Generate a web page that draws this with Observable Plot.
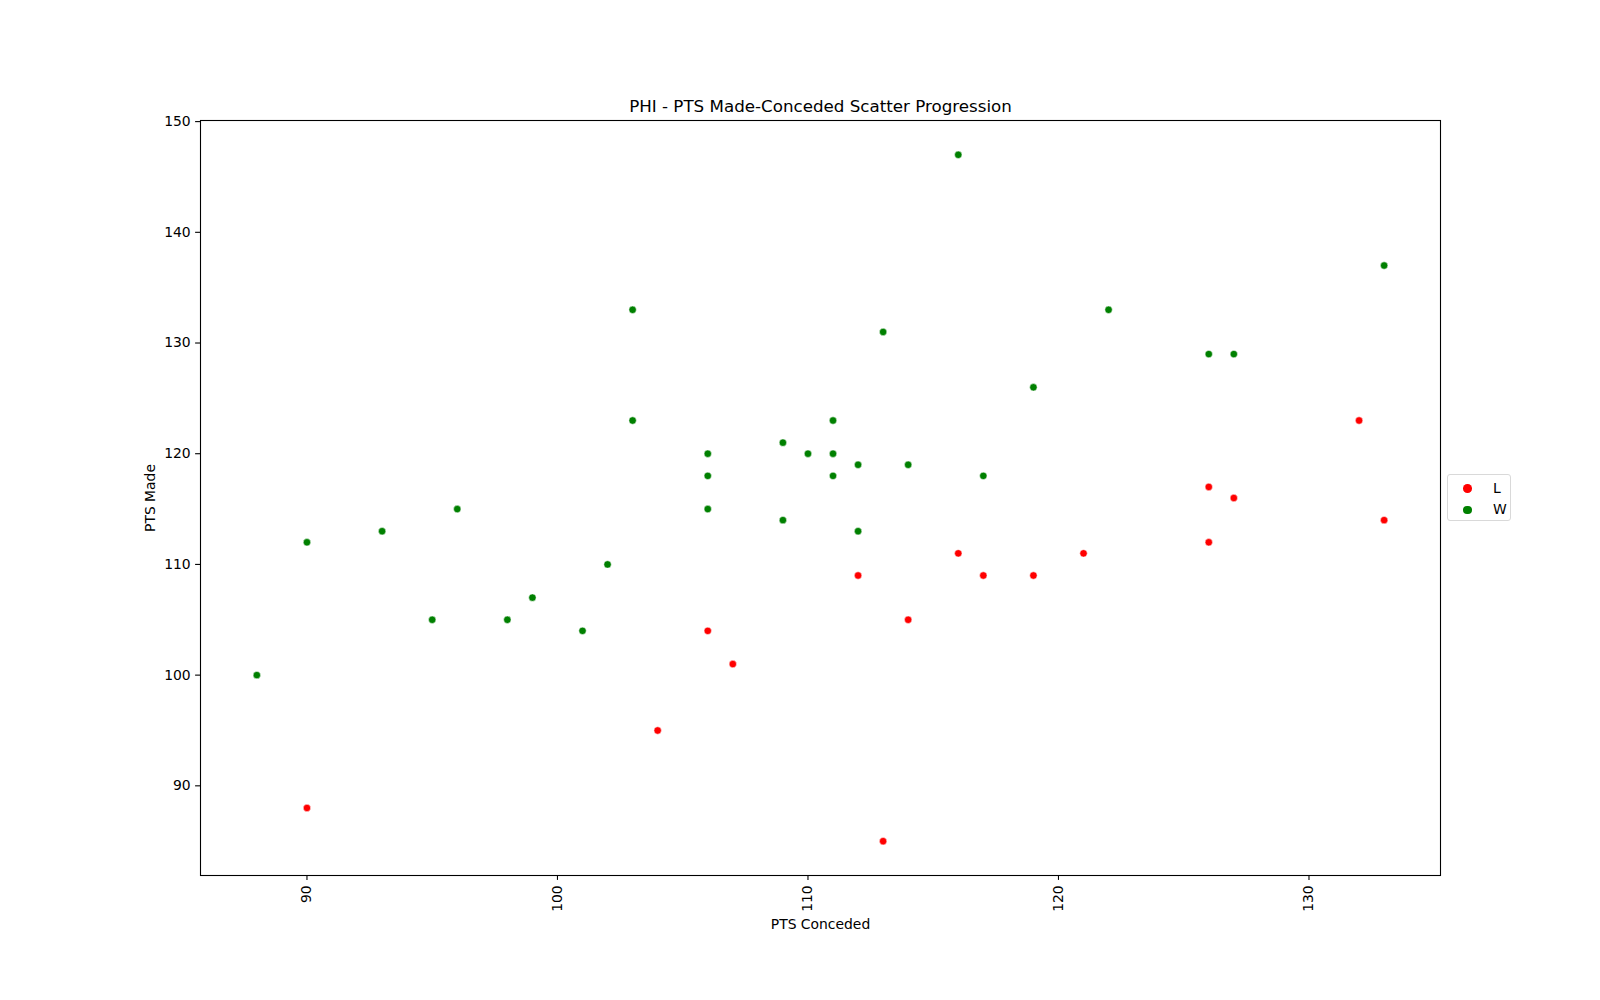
<!DOCTYPE html>
<html>
<head>
<meta charset="utf-8">
<script src="https://cdn.jsdelivr.net/npm/d3@7"></script>
<script src="https://cdn.jsdelivr.net/npm/@observablehq/plot@0.6"></script>
<style>
  html, body { margin: 0; padding: 0; background: #fff; }
  #wrap { position: relative; width: 1600px; height: 1000px; font-family: "DejaVu Sans", sans-serif; }
  #legend {
    position: absolute; left: 1447px; top: 474px; width: 64px; height: 47px;
    border: 1px solid #d9d9d9; border-radius: 3px; box-sizing: border-box;
    font-size: 13.9px; color: #000; background: rgba(255,255,255,0.8);
  }
  .sw { position: absolute; width: 8.6px; height: 8.6px; border-radius: 50%; }
  .lab { position: absolute; line-height: 1; }
</style>
</head>
<body>
<div id="wrap"></div>
<script>
// Data (PTS Conceded, PTS Made, result)
const winConceded = [88, 90, 93, 95, 96, 98, 99, 101, 102, 103, 103, 106, 106, 106, 109, 109, 110, 111, 111, 111, 112, 112, 113, 114, 116, 117, 119, 122, 126, 127, 133];
const winMade     = [100, 112, 113, 105, 115, 105, 107, 104, 110, 133, 123, 120, 118, 115, 121, 114, 120, 123, 120, 118, 119, 113, 131, 119, 147, 118, 126, 133, 129, 129, 137];
const lossConceded = [90, 104, 106, 107, 112, 113, 114, 116, 117, 119, 121, 126, 126, 127, 132, 133];
const lossMade     = [88, 95, 104, 101, 109, 85, 105, 111, 109, 109, 111, 117, 112, 116, 123, 114];
const resultLabels = ["L", "W"];
const resultColors = ["red", "green"];
const xTicks = [90, 100, 110, 120, 130];
const yTicks = [90, 100, 110, 120, 130, 140, 150];
const titleText = "PHI - PTS Made-Conceded Scatter Progression";
const xLabel = "PTS Conceded";
const yLabel = "PTS Made";

const games = [
  ...lossConceded.map((c, i) => ({conceded: c, made: lossMade[i], result: "L"})),
  ...winConceded.map((c, i) => ({conceded: c, made: winMade[i], result: "W"}))
];

const xMin = d3.min(games, d => d.conceded), xMax = d3.max(games, d => d.conceded);
const yMin = d3.min(games, d => d.made), yMax = d3.max(games, d => d.made);
const xPad = (xMax - xMin) * 0.05, yPad = (yMax - yMin) * 0.05;

const chart = Plot.plot({
  width: 1600,
  height: 1000,
  marginLeft: 200,
  marginRight: 160,
  marginTop: 120,
  marginBottom: 125,
  style: { fontFamily: "DejaVu Sans, sans-serif", fontSize: "13.9px", color: "#000", background: "#fff" },
  x: { domain: [xMin - xPad, xMax + xPad] },
  y: { domain: [yMin - yPad, yMax + yPad] },
  color: { domain: resultLabels, range: resultColors },
  marks: [
    Plot.axisX({ ticks: xTicks, tickSize: 4.9, tickPadding: 4.9, tickRotate: -90, label: null, strokeWidth: 1.1, fontSize: 13.9 }),
    Plot.axisY({ ticks: yTicks, tickSize: 4.9, tickPadding: 4.9, label: null, strokeWidth: 1.1, fontSize: 13.9 }),
    Plot.dot(games, { x: "conceded", y: "made", fill: "result", r: 3.7, stroke: "white", strokeWidth: 0.5 }),
    Plot.frame({ stroke: "black", strokeWidth: 1.1 }),
    Plot.text([titleText], { frameAnchor: "top", dy: -8.5, lineAnchor: "bottom", textAnchor: "middle", fontSize: 16.7, fill: "black" }),
    Plot.text([xLabel], { frameAnchor: "bottom", dy: 53, lineAnchor: "bottom", textAnchor: "middle", fontSize: 13.9, fill: "black" }),
    Plot.text([yLabel], { frameAnchor: "left", dx: -50, rotate: -90, lineAnchor: "middle", textAnchor: "middle", fontSize: 13.9, fill: "black" })
  ]
});

const wrap = document.getElementById("wrap");
wrap.appendChild(chart);

// Legend
const legend = document.createElement("div");
legend.id = "legend";
resultLabels.forEach((lab, i) => {
  const sw = document.createElement("div");
  sw.className = "sw";
  sw.style.background = resultColors[i];
  sw.style.left = (19.7 - 4.3) + "px";
  sw.style.top = (13.3 + i * 21.5 - 4.3) + "px";
  legend.appendChild(sw);
  const t = document.createElement("div");
  t.className = "lab";
  t.textContent = lab;
  t.style.left = "45px";
  t.style.top = (6.5 + i * 21.5) + "px";
  legend.appendChild(t);
});
wrap.appendChild(legend);
</script>
</body>
</html>
